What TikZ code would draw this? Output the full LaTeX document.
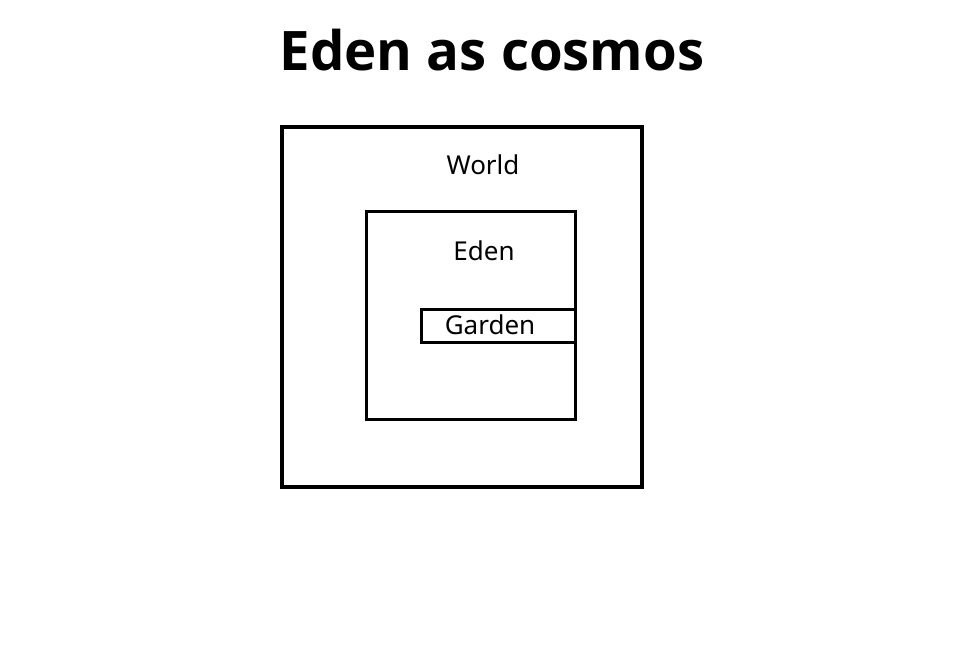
\documentclass[tikz,border=0pt]{standalone}
\usepackage{fontspec}
\setmainfont{Noto Sans}
\newfontfamily\titlefont{Open Sans}
\begin{document}
\begin{tikzpicture}[x=1pt,y=-1pt,
  box/.style={draw=black,fill=none,line join=miter},
  lbl/.style={font=\fontsize{26}{30}\selectfont,inner sep=0pt,anchor=base}]
\useasboundingbox[fill=white] (0,0) rectangle (980,657);
\node[inner sep=0pt,anchor=base,font=\titlefont\fontsize{54.5}{64}\selectfont\bfseries] (title) at (492,70) {Eden as cosmos};
\draw[box,line width=4] (282,127) rectangle (642,487);
\draw[box,line width=3] (366.5,211.5) rectangle (575,419.5);
\draw[box,line width=3] (421,309) rectangle (575,342);
\node[lbl] (world) at (483,174) {World};
\node[lbl] (eden) at (484,260) {Eden};
\node[lbl] (garden) at (490,334) {Garden};
\end{tikzpicture}
\end{document}
